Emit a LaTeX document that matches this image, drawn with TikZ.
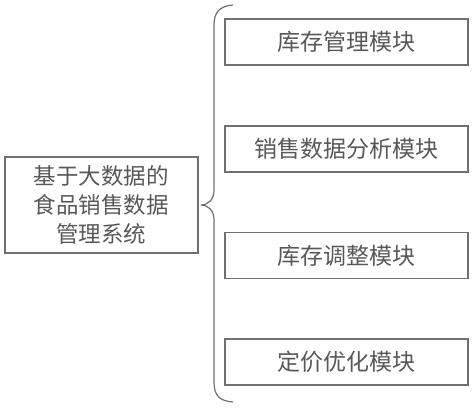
\documentclass[tikz,border=0pt]{standalone}
\usepackage{fontspec}
\newfontfamily\cjk{Noto Sans CJK SC}
\usepackage{xcolor}
\usetikzlibrary{positioning, calc}

\definecolor{linegray}{RGB}{112,112,112}
\definecolor{textgray}{RGB}{88,88,88}

\begin{document}
\begin{tikzpicture}[
                x=1pt, y=-1pt,
                module/.style={rectangle, draw=linegray, line width=1.2pt, minimum width=243pt, minimum height=46pt, inner sep=0pt, text=textgray, font=\cjk\fontsize{23}{28}\selectfont},
                system/.style={rectangle, draw=linegray, line width=1.2pt, minimum width=193pt, minimum height=96pt, inner sep=0pt, align=center, text=textgray, font=\cjk\fontsize{22.5}{29}\selectfont},
                bracket/.style={draw=linegray, line width=1.2pt}
            ]
                \useasboundingbox (0,0) rectangle (474,409);

                % System node
                \node[system] (sys) at (101.5,205) {基于大数据的\\食品销售数据\\管理系统};

                % Modules
                \node[module] (stock) at (346.5,42) {库存管理模块};
                \node[module] (sales) at (346.5,149) {销售数据分析模块};
                \node[module] (adjust) at (346.5,255.5) {库存调整模块};
                \node[module] (price) at (346.5,362) {定价优化模块};

                % Brace
                \coordinate (tip) at ($(sys.east)+(2,0)$);
                \coordinate (btop) at (233,5);
                \coordinate (bbot) at (233,402);
                \path[bracket]
                    (btop) .. controls (220,6) and (214,12) .. (214,25)
                    -- (214,190) .. controls (214,200) and (208,205) .. (tip)
                    .. controls (208,205) and (214,210) .. (214,220)
                    -- (214,382) .. controls (214,396) and (220,401) .. (bbot);
            \end{tikzpicture}
\end{document}
